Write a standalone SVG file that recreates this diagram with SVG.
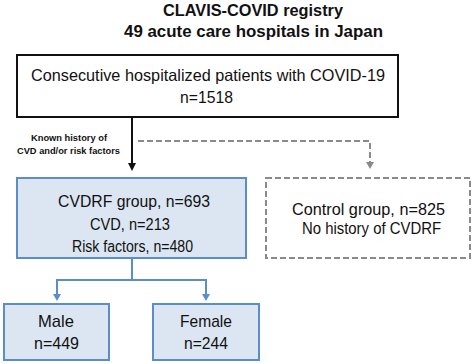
<svg xmlns="http://www.w3.org/2000/svg" width="474" height="364" viewBox="0 0 474 364">
<defs>
<style>
.t{font-family:"Liberation Sans",Arial,sans-serif;fill:#111;text-anchor:middle}
.title{font-size:17px;font-weight:bold}
.blue{fill:#dce6f2;stroke:#5b8ec9;stroke-width:2}
.dash{fill:#fff;stroke:#8a8a8a;stroke-width:2;stroke-dasharray:6,3}
</style>
</defs>
<rect width="474" height="364" fill="#fff"/>
<g id="title">
<text class="t title" x="253" y="16" textLength="180" lengthAdjust="spacingAndGlyphs">CLAVIS-COVID registry</text>
<text class="t title" x="253.5" y="37" textLength="259" lengthAdjust="spacingAndGlyphs">49 acute care hospitals in Japan</text>
</g>
<g id="main">
<rect x="17" y="55" width="381" height="62" fill="#fff" stroke="#111" stroke-width="2"/>
<text class="t" x="208" y="81" font-size="16.5" textLength="354" lengthAdjust="spacingAndGlyphs">Consecutive hospitalized patients with COVID-19</text>
<text class="t" x="206.5" y="103" font-size="16.5" textLength="53" lengthAdjust="spacingAndGlyphs">n=1518</text>
</g>
<g id="connectors">
<line x1="132" y1="118" x2="132" y2="164" stroke="#111" stroke-width="2"/>
<path d="M128,163 L136,163 L132,171 Z" fill="#111"/>
<text class="t" x="69" y="141" font-size="9" font-weight="bold" textLength="76" lengthAdjust="spacingAndGlyphs">Known history of</text>
<text class="t" x="68.5" y="154" font-size="9" font-weight="bold" textLength="103" lengthAdjust="spacingAndGlyphs">CVD and/or risk factors</text>
<path d="M138,141 H370 V163" fill="none" stroke="#8a8a8a" stroke-width="2" stroke-dasharray="6,3"/>
<path d="M366,162 L374,162 L370,169 Z" fill="#8a8a8a"/>
<path d="M132,259 V280 M56,280 H207 M57,279 V295 M206,279 V295" fill="none" stroke="#5b8ec9" stroke-width="2"/>
<path d="M53,294 L61,294 L57,301 Z" fill="#5b8ec9"/>
<path d="M202,294 L210,294 L206,301 Z" fill="#5b8ec9"/>
</g>
<g id="cvdrf">
<rect class="blue" x="17" y="178" width="229" height="80"/>
<text class="t" x="134" y="207" font-size="17" textLength="152" lengthAdjust="spacingAndGlyphs">CVDRF group, n=693</text>
<text class="t" x="130" y="230" font-size="16" textLength="80" lengthAdjust="spacingAndGlyphs">CVD, n=213</text>
<text class="t" x="132.5" y="252" font-size="16" textLength="121" lengthAdjust="spacingAndGlyphs">Risk factors, n=480</text>
</g>
<g id="control">
<rect class="dash" x="266" y="178" width="204" height="80"/>
<text class="t" x="368.5" y="215" font-size="17" textLength="153" lengthAdjust="spacingAndGlyphs">Control group, n=825</text>
<text class="t" x="371.5" y="234" font-size="16" textLength="139" lengthAdjust="spacingAndGlyphs">No history of CVDRF</text>
</g>
<g id="male">
<rect class="blue" x="4" y="304" width="105" height="56"/>
<text class="t" x="56" y="327" font-size="17" textLength="36" lengthAdjust="spacingAndGlyphs">Male</text>
<text class="t" x="56.5" y="349" font-size="17" textLength="45" lengthAdjust="spacingAndGlyphs">n=449</text>
</g>
<g id="female">
<rect class="blue" x="153" y="304" width="106" height="56"/>
<text class="t" x="206" y="327" font-size="17" textLength="52" lengthAdjust="spacingAndGlyphs">Female</text>
<text class="t" x="206" y="349" font-size="17" textLength="44" lengthAdjust="spacingAndGlyphs">n=244</text>
</g>
</svg>
